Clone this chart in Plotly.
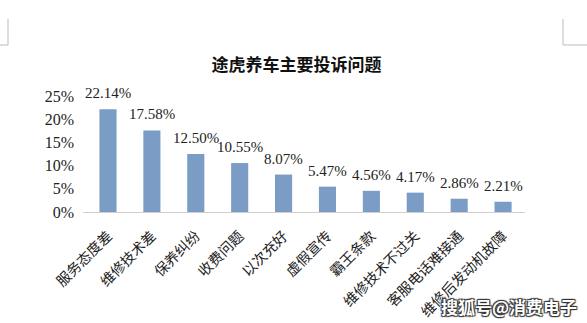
import plotly.graph_objects as go

categories = ["服务态度差", "维修技术差", "保养纠纷", "收费问题", "以次充好",
              "虚假宣传", "霸王条款", "维修技术不过关", "客服电话难接通", "维修后发动机故障"]
values = [22.14, 17.58, 12.50, 10.55, 8.07, 5.47, 4.56, 4.17, 2.86, 2.21]
tick_vals = [0, 5, 10, 15, 20, 25]
tick_text = ["0%", "5%", "10%", "15%", "20%", "25%"]
title_text = "途虎养车主要投诉问题"
watermark = "搜狐号@消费电子"

serif = "Liberation Serif"
cjk = "Noto Sans CJK SC"

fig = go.Figure(go.Bar(
    x=categories, y=values,
    marker=dict(color="#7B9CC4", line=dict(width=0)),
    hoverinfo="skip",
))

for c, v in zip(categories, values):
    fig.add_annotation(x=c, y=v, text=f"{v:.2f}%", showarrow=False,
                       yanchor="bottom", yshift=6,
                       font=dict(family=serif, size=15, color="#222"))

fig.update_layout(
    width=587, height=323,
    margin=dict(l=83, r=62, t=96, b=111),
    paper_bgcolor="white", plot_bgcolor="white",
    bargap=0.61,
    showlegend=False,
    title=dict(text="<b>" + title_text + "</b>", x=0.505, xanchor="center",
               y=1 - 65 / 323, yanchor="middle",
               font=dict(family=cjk, size=17, color="#111")),
    xaxis=dict(showline=True, linecolor="#D0D0D0", linewidth=1, ticks="",
               tickangle=-45, tickfont=dict(family=cjk, size=14.3, color="#222"),
               ticklabelstandoff=9, automargin=False,
               showgrid=False, zeroline=False),
    yaxis=dict(range=[0, 25], tickvals=tick_vals, ticktext=tick_text,
               showgrid=False, zeroline=False, showline=False, automargin=False,
               tickfont=dict(family=serif, size=16, color="#222"), ticklabelstandoff=8),
)

# Word-style corner marks
line = dict(color="#BBBBBB", width=1)
fig.add_shape(type="line", xref="paper", yref="paper", x0=-83/442, x1=-75/442,
              y0=1 + (96 - 45) / 116, y1=1 + (96 - 45) / 116, line=line)
fig.add_shape(type="line", xref="paper", yref="paper", x0=-75/442, x1=-75/442,
              y0=1 + (96 - 45) / 116, y1=1 + (96 - 19) / 116, line=line)
fig.add_shape(type="line", xref="paper", yref="paper", x0=(563 - 83)/442, x1=(587 - 83)/442,
              y0=1 + (96 - 45) / 116, y1=1 + (96 - 45) / 116, line=line)
fig.add_shape(type="line", xref="paper", yref="paper", x0=(563 - 83)/442, x1=(563 - 83)/442,
              y0=1 + (96 - 45) / 116, y1=1 + (96 - 19) / 116, line=line)

fig.add_annotation(x=(509 - 83) / 442, y=-(306 - 212) / 116, xref="paper", yref="paper",
                   text="<b>" + watermark + "</b>", showarrow=False,
                   xanchor="center", yanchor="middle",
                   font=dict(family=cjk, size=17, color="white",
                             shadow="1px 1px 1px #333, -1px -1px 1px #333, 1px -1px 1px #333, -1px 1px 1px #333"))

fig.write_html("out.html")
